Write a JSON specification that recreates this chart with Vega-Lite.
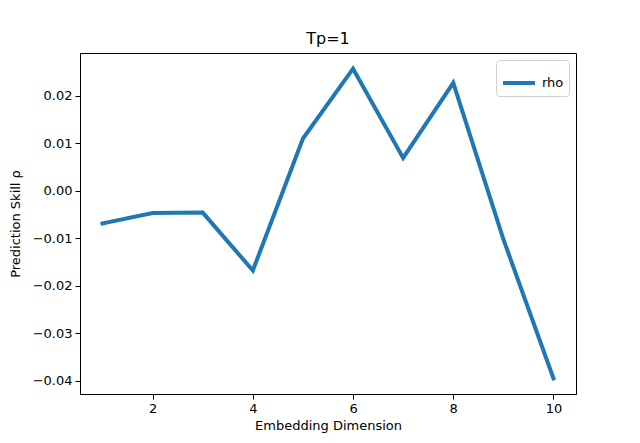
{
  "$schema": "https://vega.github.io/schema/vega-lite/v6.json",
  "width": 496,
  "height": 341,
  "autosize": "none",
  "padding": {"left": 80, "top": 53, "right": 64, "bottom": 49},
  "background": "white",
  "title": {
    "text": "Tp=1",
    "font": "DejaVu Sans",
    "fontSize": 16,
    "fontWeight": "normal",
    "color": "black",
    "offset": 6
  },
  "data": {
    "values": [
      {"E": 1, "rho": -0.0069, "series": "rho"},
      {"E": 2, "rho": -0.0047, "series": "rho"},
      {"E": 3, "rho": -0.0046, "series": "rho"},
      {"E": 4, "rho": -0.0168, "series": "rho"},
      {"E": 5, "rho": 0.0110, "series": "rho"},
      {"E": 6, "rho": 0.0257, "series": "rho"},
      {"E": 7, "rho": 0.0069, "series": "rho"},
      {"E": 8, "rho": 0.0227, "series": "rho"},
      {"E": 9, "rho": -0.0102, "series": "rho"},
      {"E": 10, "rho": -0.0395, "series": "rho"}
    ]
  },
  "mark": {"type": "line", "strokeWidth": 4, "strokeCap": "square"},
  "encoding": {
    "x": {
      "field": "E",
      "type": "quantitative",
      "title": "Embedding Dimension",
      "scale": {"domain": [0.55, 10.45], "nice": false, "zero": false},
      "axis": {"values": [2, 4, 6, 8, 10], "format": "d"}
    },
    "y": {
      "field": "rho",
      "type": "quantitative",
      "title": "Prediction Skill ρ",
      "scale": {"domain": [-0.0428, 0.0290], "nice": false, "zero": false},
      "axis": {"values": [-0.04, -0.03, -0.02, -0.01, 0, 0.01, 0.02], "format": ".2f"}
    },
    "color": {
      "field": "series",
      "type": "nominal",
      "scale": {"range": ["#1f77b4"]},
      "legend": {
        "title": null,
        "orient": "none",
        "legendX": 416,
        "legendY": 7,
        "symbolType": "stroke",
        "symbolStrokeWidth": 4,
        "symbolSize": 1024,
        "labelOffset": 5,
        "labelFont": "DejaVu Sans",
        "labelFontSize": 13,
        "labelColor": "black",
        "strokeColor": "#d0d0d0",
        "cornerRadius": 3,
        "padding": 5,
        "fillColor": "white"
      }
    }
  },
  "config": {
    "view": {"stroke": "black", "strokeWidth": 1},
    "axis": {
      "grid": false,
      "domainColor": "black",
      "tickColor": "black",
      "tickSize": 5,
      "labelFont": "DejaVu Sans",
      "labelFontSize": 13,
      "labelColor": "black",
      "labelPadding": 3,
      "titleFont": "DejaVu Sans",
      "titleFontSize": 13,
      "titleFontWeight": "normal",
      "titleColor": "black"
    },
    "axisY": {"titlePadding": 10}
  }
}
